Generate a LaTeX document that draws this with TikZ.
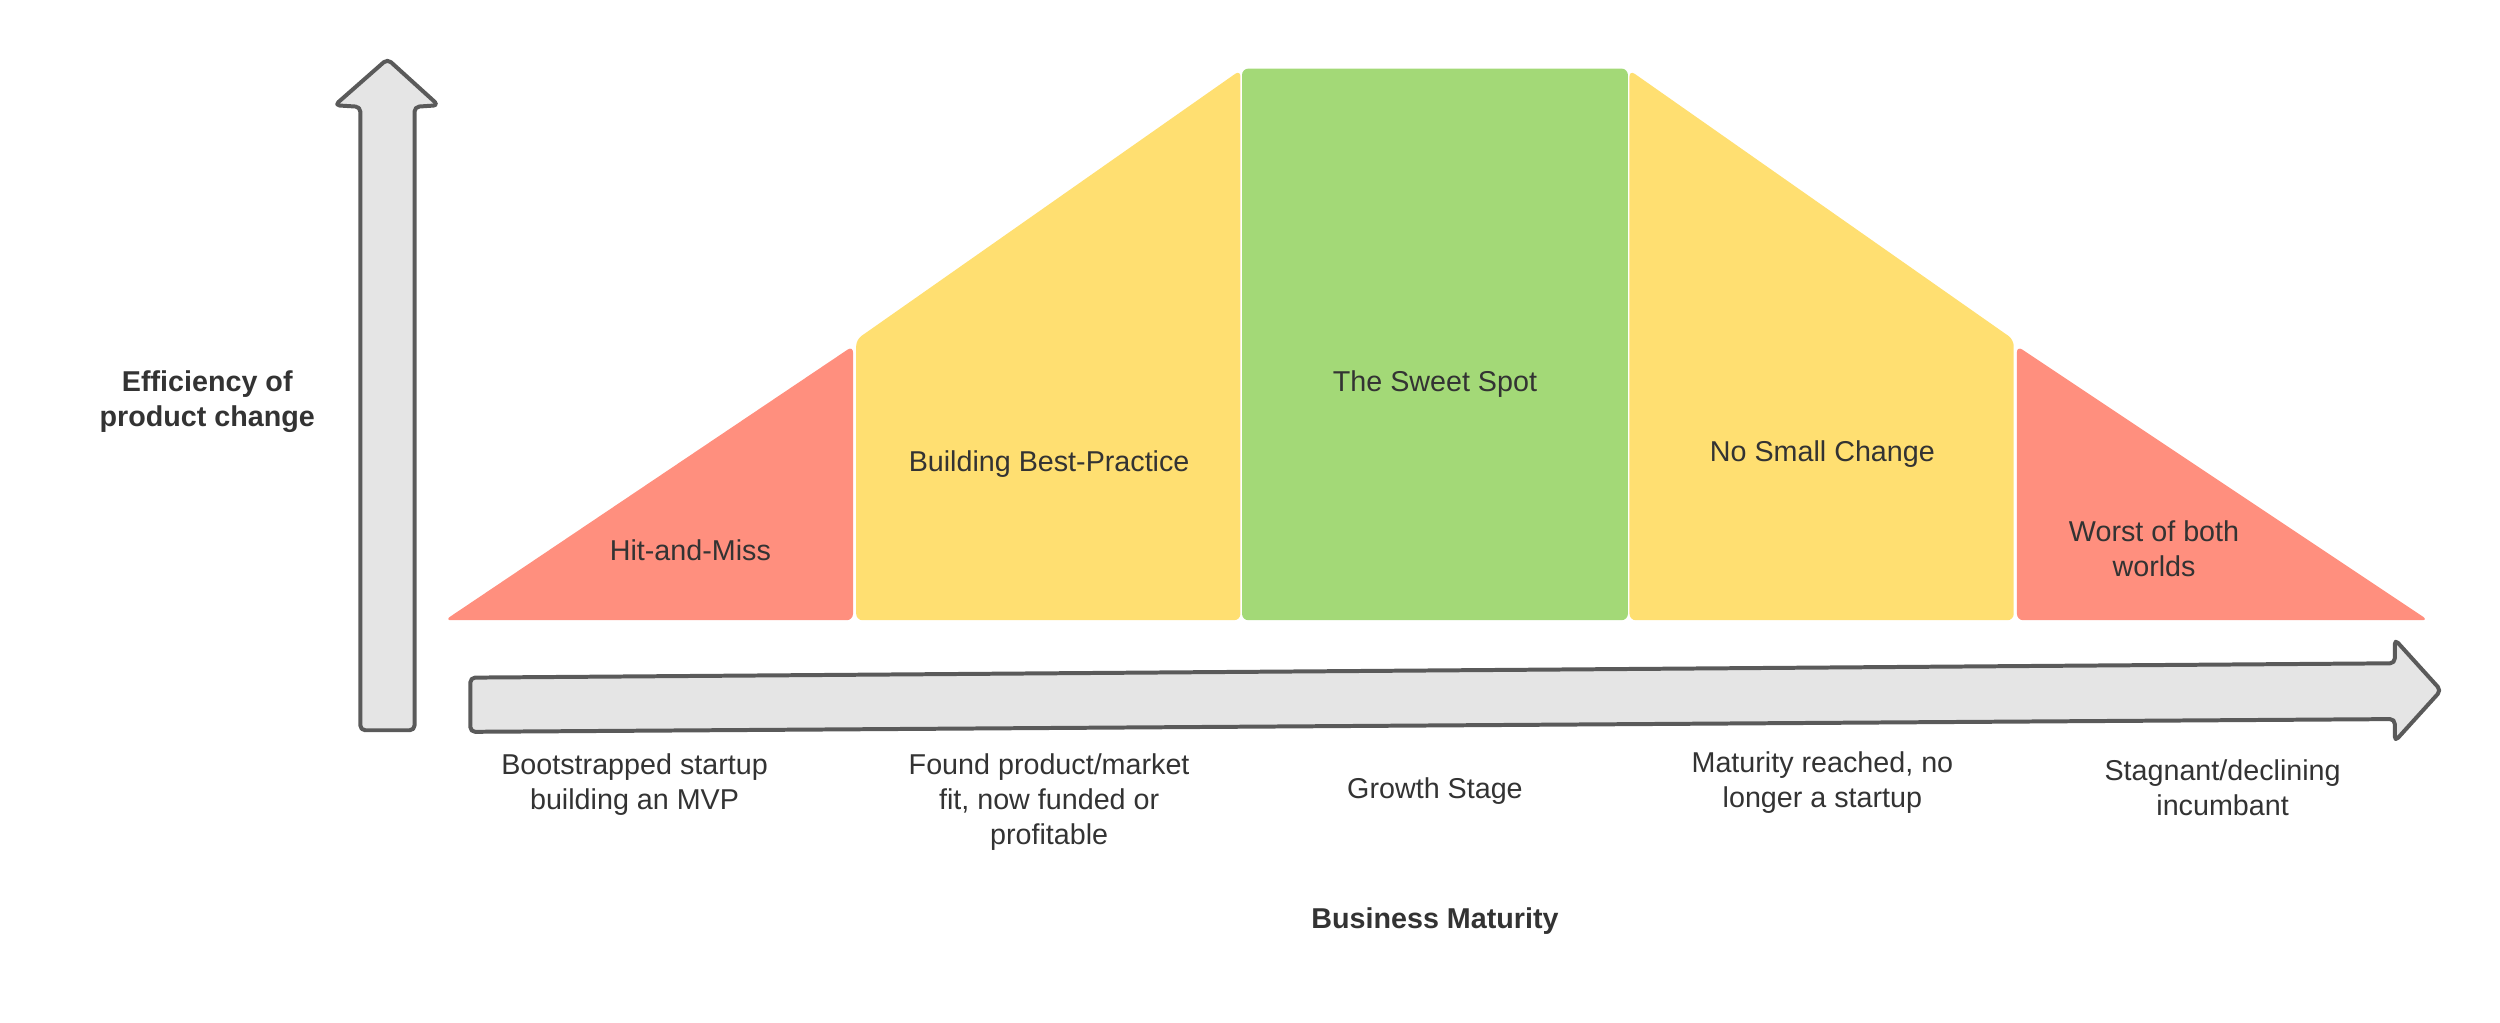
\documentclass[tikz,border=0pt]{standalone}
\usepackage{fontspec}
\setmainfont{Liberation Sans}
\begin{document}
\begin{tikzpicture}[x=1pt,y=-1pt,
  lbl/.style={text=txt,font=\fontsize{18}{22}\selectfont,align=center},
  blbl/.style={text=txt,font=\fontsize{18}{22}\selectfont\bfseries,align=center},
  arr/.style={fill=arrfill,draw=arrline,line width=2.5pt,line join=round,rounded corners=3pt},
  zone/.style={rounded corners=4pt}]
\definecolor{txt}{HTML}{333333}
\definecolor{redz}{HTML}{FF8F7E}
\definecolor{yelz}{HTML}{FFDF71}
\definecolor{grnz}{HTML}{A3D977}
\definecolor{arrfill}{HTML}{E5E5E5}
\definecolor{arrline}{HTML}{5A5A5A}
\useasboundingbox (0,0) rectangle (1568,641);
\fill[redz,zone] (279,389) -- (535,217) -- (535,389) -- cycle;
\fill[yelz,zone] (537,389) -- (537,213) -- (778,44) -- (778,389) -- cycle;
\fill[grnz,zone] (779,43) rectangle (1021,389);
\fill[yelz,zone] (1022,389) -- (1022,44) -- (1263,213) -- (1263,389) -- cycle;
\fill[redz,zone] (1265,389) -- (1265,217) -- (1523,389) -- cycle;
\draw[arr] (226,458) -- (226,67) -- (210,66) -- (243,37) -- (275,66) -- (260,67) -- (260,458) -- cycle;
\draw[arr] (295,459) -- (295,425) -- (1502,416) -- (1502,401) -- (1531,433) -- (1502,465) -- (1502,451) -- cycle;
\node[lbl] (hm) at (433,345) {Hit-and-Miss};
\node[lbl] (bbp) at (658,291) {Building Best-Practice};
\node[lbl] (ss) at (900,241) {The Sweet Spot};
\node[lbl] (nsc) at (1143,285) {No Small Change};
\node[lbl] (wb) at (1351,344) {Worst of both\\worlds};
\node[blbl] (ey) at (130,252) {Efficiency of\\product change};
\node[lbl] (l1) at (398,492) {Bootstrapped startup\\building an MVP};
\node[lbl] (l2) at (658,503) {Found product/market\\fit, now funded or\\profitable};
\node[lbl] (l3) at (900,496) {Growth Stage};
\node[lbl] (l4) at (1143,491) {Maturity reached, no\\longer a startup};
\node[lbl] (l5) at (1394,494) {Stagnant/declining\\incumbant};
\node[blbl] (bm) at (900,578) {Business Maturity};
\end{tikzpicture}
\end{document}
